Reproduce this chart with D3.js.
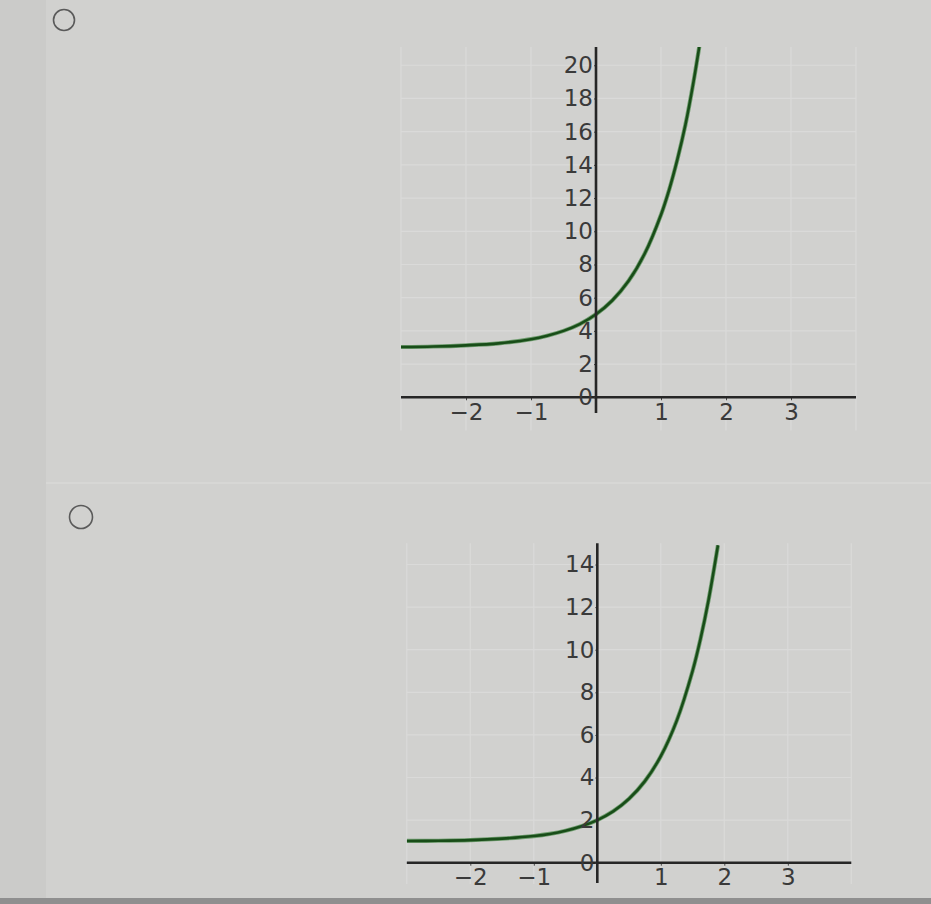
<!DOCTYPE html>
<html>
<head>
<meta charset="utf-8">
<script src="https://cdn.jsdelivr.net/npm/d3@7"></script>
<style>
  html, body { margin: 0; padding: 0; background: #d1d1cf; }
  svg { display: block; }
</style>
</head>
<body>
<svg id="chart" width="931" height="904"></svg>
<script>
// ---- data ----
const topX = [-3, -2.5, -2, -1.5, -1, -0.75, -0.5, -0.25, 0, 0.25, 0.5, 0.75, 1, 1.125, 1.25, 1.375, 1.5, 1.6];
const topY = [3.03, 3.06, 3.13, 3.25, 3.5, 3.71, 4.0, 4.41, 5.0, 5.83, 7.0, 8.66, 11.0, 12.5, 14.3, 16.4, 19.0, 21.4];
const topYTicks = [0, 2, 4, 6, 8, 10, 12, 14, 16, 18, 20];

const bottomX = [-3, -2.5, -2, -1.5, -1, -0.75, -0.5, -0.25, 0, 0.25, 0.5, 0.75, 1, 1.25, 1.5, 1.625, 1.75, 1.9];
const bottomY = [1.02, 1.03, 1.06, 1.13, 1.25, 1.35, 1.5, 1.71, 2.0, 2.41, 3.0, 3.83, 5.0, 6.66, 9.0, 10.5, 12.3, 14.9];
const bottomYTicks = [0, 2, 4, 6, 8, 10, 12, 14];

const xTicks = [-2, -1, 1, 2, 3];
const xGrid = [-3, -2, -1, 1, 2, 3, 4];

// ---- page chrome ----
const svg = d3.select("#chart");
svg.append("rect").attr("x", 0).attr("y", 0).attr("width", 931).attr("height", 904).attr("fill", "#d1d1cf");
svg.append("rect").attr("x", 0).attr("y", 0).attr("width", 46).attr("height", 898).attr("fill", "#cbcbc9");
svg.append("line").attr("x1", 46).attr("x2", 931).attr("y1", 483).attr("y2", 483)
  .attr("stroke", "#d9d9d7").attr("stroke-width", 1.5);
svg.append("rect").attr("x", 0).attr("y", 898).attr("width", 931).attr("height", 6).attr("fill", "#8f8f8f");
svg.append("circle").attr("cx", 64).attr("cy", 20).attr("r", 10.5)
  .attr("fill", "none").attr("stroke", "#5a5a5a").attr("stroke-width", 1.6);
svg.append("circle").attr("cx", 81).attr("cy", 517).attr("r", 11.5)
  .attr("fill", "none").attr("stroke", "#5a5a5a").attr("stroke-width", 1.6);

function drawChart(cfg) {
  const x = d3.scaleLinear().domain([-3, 4]).range(cfg.xRange);
  const y = d3.scaleLinear().domain(cfg.yDomain).range(cfg.yRange);
  const g = svg.append("g");

  // grid
  g.append("g").selectAll("line.v").data(xGrid).join("line")
    .attr("x1", d => x(d)).attr("x2", d => x(d))
    .attr("y1", y(cfg.yDomain[1])).attr("y2", y(cfg.yDomain[0]))
    .attr("stroke", "#dadad9").attr("stroke-width", 1.2);
  g.append("g").selectAll("line.h").data(cfg.yTicks.filter(d => d !== 0)).join("line")
    .attr("x1", x(-3)).attr("x2", x(4))
    .attr("y1", d => y(d)).attr("y2", d => y(d))
    .attr("stroke", "#dadad9").attr("stroke-width", 1.2);

  // curve
  const clipId = "clip" + cfg.id;
  g.append("clipPath").attr("id", clipId).append("rect")
    .attr("x", x(-3)).attr("y", y(cfg.yDomain[1]))
    .attr("width", x(4) - x(-3)).attr("height", y(cfg.yDomain[0]) - y(cfg.yDomain[1]));
  const pts = cfg.xs.map((v, i) => [v, cfg.ys[i]]);
  const line = d3.line().x(d => x(d[0])).y(d => y(d[1])).curve(d3.curveCatmullRom.alpha(0.5));
  g.append("path").datum(pts).attr("clip-path", `url(#${clipId})`)
    .attr("d", line).attr("fill", "none")
    .attr("stroke", "#2f7a2f").attr("stroke-width", 4.2).attr("stroke-opacity", 0.6);
  g.append("path").datum(pts).attr("clip-path", `url(#${clipId})`)
    .attr("d", line).attr("fill", "none")
    .attr("stroke", "#184d18").attr("stroke-width", 2.6);

  // axes
  const fmt = d3.format("d");
  const xAxis = d3.axisBottom(x).tickValues(xTicks).tickFormat(fmt).tickSize(3).tickPadding(3);
  const gx = g.append("g").attr("transform", `translate(0,${y(0)})`).call(xAxis);
  gx.select(".domain").remove();
  g.append("line").attr("x1", x(-3)).attr("x2", x(4)).attr("y1", y(0)).attr("y2", y(0))
    .attr("stroke", "#262626").attr("stroke-width", 2.6);

  const yAxis = d3.axisLeft(y).tickValues(cfg.yTicks).tickFormat(fmt).tickSize(2).tickPadding(1);
  const gy = g.append("g").attr("transform", `translate(${x(0)},0)`).call(yAxis);
  gy.select(".domain").remove();
  g.append("line").attr("x1", x(0)).attr("x2", x(0))
    .attr("y1", y(cfg.yDomain[1])).attr("y2", y(-0.95))
    .attr("stroke", "#262626").attr("stroke-width", 2.6);

  [gx, gy].forEach(a => {
    a.selectAll(".tick line").attr("stroke", "#444").attr("stroke-width", 1);
    a.selectAll(".tick text").attr("fill", "#3a3a3a")
      .attr("font-family", "DejaVu Sans, sans-serif").attr("font-size", 23);
  });
}

drawChart({
  id: "top",
  xs: topX, ys: topY, yTicks: topYTicks,
  xRange: [401, 856],
  yDomain: [-2, 21.1], yRange: [430.5, 47]
});

drawChart({
  id: "bottom",
  xs: bottomX, ys: bottomY, yTicks: bottomYTicks,
  xRange: [406.8, 851.3],
  yDomain: [-1, 15], yRange: [884, 543.2]
});
</script>
</body>
</html>
